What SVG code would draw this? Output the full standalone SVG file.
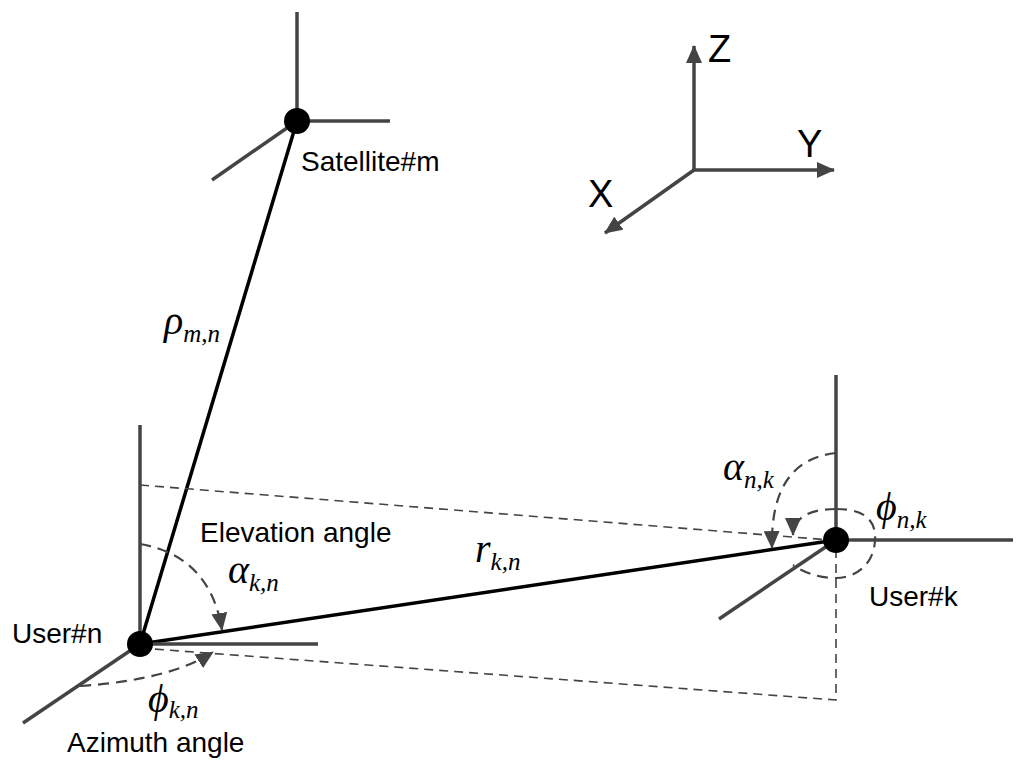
<svg xmlns="http://www.w3.org/2000/svg" width="1024" height="766" viewBox="0 0 1024 766">
<style>
.ax{stroke:#444;stroke-width:3.5;fill:none}
.ln{stroke:#000;stroke-width:3.5;fill:none}
.d{stroke:#444;stroke-width:1.6;stroke-dasharray:9,6;fill:none}
.da{stroke:#444;stroke-width:2.2;stroke-dasharray:11,7;fill:none}
.t{font-family:"Liberation Sans",Arial,sans-serif;font-size:28px;fill:#000}
.m{font-family:"Liberation Serif","Times New Roman",serif;font-style:italic;fill:#000}
</style>
<defs>
<marker id="ab" markerWidth="18" markerHeight="16" refX="17" refY="8" orient="auto" markerUnits="userSpaceOnUse"><path d="M0,0 L18,8 L0,16z" fill="#444"/></marker>
</defs>
<g id="connectors">
<line class="ln" x1="297" y1="121" x2="140" y2="644"/>
<line class="ln" x1="140" y1="644" x2="836" y2="540"/>
<path class="d" d="M140,485 L830,540"/>
<path class="d" d="M140,648 L836,700 L836,545"/>
<path class="da" d="M140,544 Q210,556 222,630" marker-end="url(#ab)"/>
<path class="da" d="M80,686 Q170,680 213,652" marker-end="url(#ab)"/>
<path class="da" d="M836,453 Q770,460 772,548" marker-end="url(#ab)"/>
<path class="da" d="M836,509 C806,509 793,520 793,535" marker-end="url(#ab)"/>
<path class="da" d="M836,509 C870,509 876,525 875,540 C874,565 855,578 836,578 C815,578 800,570 793,565"/>
</g>
<g id="axes">
<line class="ax" x1="694" y1="170" x2="694" y2="46" marker-end="url(#ab)"/>
<line class="ax" x1="694" y1="170" x2="834" y2="170" marker-end="url(#ab)"/>
<line class="ax" x1="694" y1="170" x2="605" y2="233" marker-end="url(#ab)"/>
<text class="t" x="708" y="62" style="font-size:38px">Z</text>
<text class="t" x="797" y="157" style="font-size:38px">Y</text>
<text class="t" x="588" y="207" style="font-size:38px">X</text>
</g>
<g id="satellite">
<line class="ax" x1="297" y1="12" x2="297" y2="121"/>
<line class="ax" x1="297" y1="121" x2="390" y2="121"/>
<line class="ax" x1="297" y1="121" x2="212" y2="180"/>
<circle cx="297" cy="121" r="13" fill="#000"/>
<text class="t" x="301" y="171">Satellite#m</text>
</g>
<g id="user-n">
<line class="ax" x1="140" y1="425" x2="140" y2="644"/>
<line class="ax" x1="140" y1="644" x2="318" y2="644"/>
<line class="ax" x1="140" y1="644" x2="23" y2="723"/>
<circle cx="140" cy="644" r="13" fill="#000"/>
<text class="t" x="12" y="643">User#n</text>
<text class="t" x="200" y="542">Elevation angle</text>
<text class="t" x="67" y="752">Azimuth angle</text>
</g>
<g id="user-k">
<line class="ax" x1="836" y1="375" x2="836" y2="540"/>
<line class="ax" x1="836" y1="540" x2="1013" y2="540"/>
<line class="ax" x1="836" y1="540" x2="719" y2="619"/>
<circle cx="836" cy="540" r="13" fill="#000"/>
<text class="t" x="869" y="606">User#k</text>
</g>
<g id="labels">
<text class="m" x="164" y="334" font-size="40">ρ<tspan font-size="25" dy="8">m,n</tspan></text>
<text class="m" x="228" y="583" font-size="40">α<tspan font-size="25" dy="8">k,n</tspan></text>
<text class="m" x="475" y="562" font-size="40">r<tspan font-size="25" dy="8">k,n</tspan></text>
<text class="m" x="148" y="712" font-size="40">ϕ<tspan font-size="25" dy="6">k,n</tspan></text>
<text class="m" x="723" y="480" font-size="40">α<tspan font-size="25" dy="8">n,k</tspan></text>
<text class="m" x="876" y="520" font-size="40">ϕ<tspan font-size="25" dy="8">n,k</tspan></text>
</g>
</svg>
